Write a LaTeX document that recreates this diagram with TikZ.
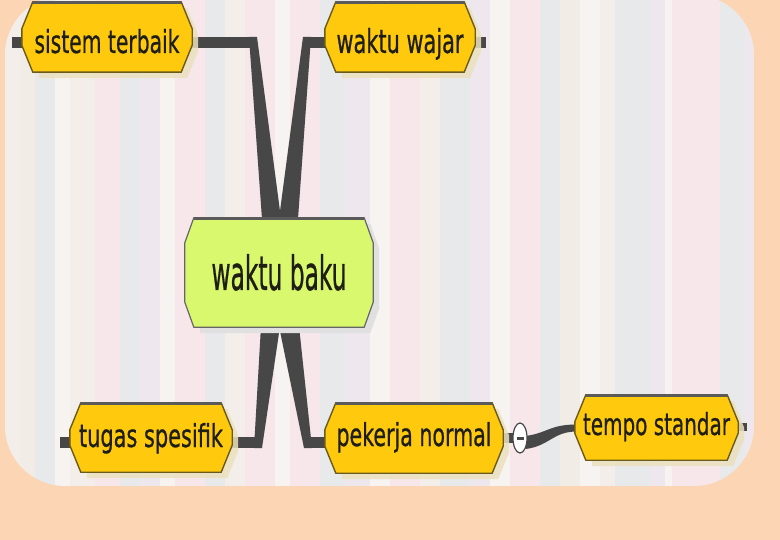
\documentclass[tikz,border=0pt]{standalone}
\usepackage{fontspec}
\setmainfont{DejaVu Sans}
\newfontfamily\lblfont[FakeBold=0.8]{DejaVu Sans}
\usepackage{graphicx}
\usetikzlibrary{calc,shapes.geometric,backgrounds}
\definecolor{peach}{HTML}{FCD6B4}
\definecolor{ca}{HTML}{F3EEEA}
\definecolor{cb}{HTML}{E8E9EA}
\definecolor{cc}{HTML}{F8E7EA}
\definecolor{cd}{HTML}{EEE8EE}
\definecolor{ce}{HTML}{F6F3F0}
\definecolor{cf}{HTML}{F1ECE6}
\definecolor{ylw}{HTML}{FFC90E}
\definecolor{ybord}{HTML}{6B5B1A}
\definecolor{topg}{HTML}{5A5A5A}
\definecolor{lime}{HTML}{D9F86E}
\definecolor{conn}{HTML}{474747}
\definecolor{txtc}{HTML}{1E1E14}
\definecolor{shad}{HTML}{EBE0BE}
\begin{document}
\begin{tikzpicture}[x=1pt,y=-1pt,
  lbl/.style={inner sep=0pt, anchor=base, text=txtc, font=\lblfont},
  connfill/.style={fill=conn},
  connshadow/.style={fill=black!14},
  boxshadow/.style={fill=shad, opacity=.85},
  minus/.style={ellipse, draw=conn, line width=1.2pt, fill=white, inner sep=0pt, minimum width=14pt, minimum height=30pt, text=conn}
]
\useasboundingbox (0,0) rectangle (780,540);

% labelled boxes
\node[lbl, minimum width=170pt, text height=51pt, text depth=19pt] (st) at (107,53) {\resizebox{145pt}{24pt}{sistem terbaik}};
\node[lbl, minimum width=150pt, text height=51pt, text depth=19pt] (ww) at (400,53) {\resizebox{127pt}{25pt}{waktu wajar}};
\node[lbl, minimum width=162pt, text height=44pt, text depth=25pt] (ts) at (151,447) {\resizebox{144pt}{24pt}{tugas spesifik}};
\node[lbl, minimum width=178pt, text height=43pt, text depth=27pt] (pn) at (414,446) {\resizebox{155pt}{24pt}{pekerja normal}};
\node[lbl, minimum width=163pt, text height=40pt, text depth=25pt] (tp) at (656.5,435) {\resizebox{147pt}{23pt}{tempo standar}};
\node[lbl, minimum width=188pt, text height=72pt, text depth=37pt] (wb) at (279,290) {\resizebox{135pt}{36pt}{waktu baku}};
\node[minus] (mn) at (520,438) {\rule[-1.5pt]{7pt}{3pt}};

\coordinate (jtl) at (253,42.5);
\coordinate (jtr) at (307,42.5);
\coordinate (jbl) at (258,442.5);
\coordinate (jbr) at (308,442.5);
\coordinate (stw) at (st.west |- jtl);
\coordinate (ste) at (st.east |- jtl);
\coordinate (wwe) at (ww.east |- jtr);
\coordinate (www) at (ww.west |- jtr);
\coordinate (tse) at (ts.east |- jbl);
\coordinate (tsw) at (ts.west |- jbl);
\coordinate (pnw) at (pn.west |- jbr);

\begin{pgfonlayer}{background}
  \fill[peach] (0,0) rectangle (780,540);
  \begin{scope}
    \clip[rounded corners=60pt] (5,-5) rectangle (754,486);
    \foreach \a/\b/\c in {5/20/ca,20/35/cf,35/55/cb,55/70/ce,70/95/ca,95/120/cc,120/140/cb,140/160/cd,160/175/ce,175/205/cc,205/225/cb,225/245/ca,245/275/cc,275/290/ce,290/320/cc,320/345/cb,345/370/cd,370/390/ce,390/420/cc,420/440/ca,440/470/cb,470/490/cd,490/510/ce,510/540/cc,540/560/cb,560/580/cf,580/600/ce,600/615/ca,615/650/cb,650/665/cd,665/672/ce,672/720/cc,720/745/cb,745/755/cd}
      \fill[\c] (\a,-5) rectangle (\b,486);
  \end{scope}

  % connectors (shadow first, then dark)
  \foreach \dx/\dy/\st in {4/6/connshadow,0/0/connfill}{
    \begin{scope}[shift={(\dx,\dy)}]
      % top left
      \fill[\st] ($(ste)+(-2,-5.5)$) rectangle ($(jtl)+(3,5.5)$);
      \fill[\st] ($(jtl)+(-4,-5.5)$) -- ($(jtl)+(4,-5.5)$) -- ($(wb.north)+(2,1)$) -- ($(wb.north)+(-17,1)$) -- cycle;
      \fill[\st] ($(stw)+(-10,-5.5)$) rectangle ($(stw)+(2,5.5)$);
      % top right
      \fill[\st] ($(jtr)+(-3,-5.5)$) rectangle ($(www)+(2,5.5)$);
      \fill[\st] ($(jtr)+(-4,-5.5)$) -- ($(jtr)+(4,-5.5)$) -- ($(wb.north)+(19,1)$) -- ($(wb.north)+(0,1)$) -- cycle;
      \fill[\st] ($(wwe)+(-2,-5.5)$) rectangle ($(wwe)+(11,5.5)$);
      % bottom left
      \fill[\st] ($(tse)+(-2,-5.5)$) rectangle ($(jbl)+(4,5.5)$);
      \fill[\st] ($(wb.south)+(-18,-1)$) -- ($(wb.south)+(1,-1)$) -- ($(jbl)+(4,5.5)$) -- ($(jbl)+(-4,5.5)$) -- cycle;
      \fill[\st] ($(tsw)+(-10,-5.5)$) rectangle ($(tsw)+(2,5.5)$);
      % bottom right
      \fill[\st] ($(jbr)+(-4,-5.5)$) rectangle ($(pnw)+(2,5.5)$);
      \fill[\st] ($(wb.south)+(0,-1)$) -- ($(wb.south)+(20,-1)$) -- ($(jbr)+(4,5.5)$) -- ($(jbr)+(-4,5.5)$) -- cycle;
      % pekerja normal -> minus -> tempo standar
      \fill[\st] ($(pn.east)+(-2,-5)$) rectangle ($(mn.center)+(0,5)$);
      \fill[\st] ($(mn.east)+(-2,-2)$) .. controls ($(mn.east)+(20,-5)$) and ($(tp.west)+(-25,-3)$) .. ($(tp.west)+(2,-3)$)
        -- ($(tp.west)+(2,4)$) .. controls ($(tp.west)+(-22,4)$) and ($(mn.east)+(22,8)$) .. ($(mn.east)+(-2,11)$) -- cycle;
      \fill[\st] ($(tp.east)+(-2,-4.5)$) rectangle ($(tp.east)+(9,3.5)$);
    \end{scope}
  }

  % yellow boxes
  \foreach \n in {st,ww,ts,pn,tp}{
    \fill[boxshadow] ($(\n.north west)+(17,6)$) -- ($(\n.north east)+(-5,6)$) -- ($(\n.north east)+(6,33)$) -- ($(\n.south east)+(6,-21)$) -- ($(\n.south east)+(-5,6)$) -- ($(\n.south west)+(17,6)$) -- cycle;
    \draw[fill=ylw, draw=ybord, line width=1.4pt, line join=miter]
      ($(\n.north west)+(11,0)$) -- ($(\n.north east)+(-11,0)$) -- ($(\n.north east)+(0,27)$) -- ($(\n.south east)+(0,-27)$) -- ($(\n.south east)+(-11,0)$) -- ($(\n.south west)+(11,0)$) -- ($(\n.south west)+(0,-27)$) -- ($(\n.north west)+(0,27)$) -- cycle;
    \draw[topg, line width=3pt] ($(\n.north west)+(11,0.8)$) -- ($(\n.north east)+(-11,0.8)$);
  }
  % central box
  \fill[black!12] ($(wb.north west)+(15,6)$) -- ($(wb.north east)+(-3,6)$) -- ($(wb.north east)+(6,31)$) -- ($(wb.south east)+(6,-19)$) -- ($(wb.south east)+(-3,6)$) -- ($(wb.south west)+(15,6)$) -- cycle;
  \draw[fill=lime, draw=black!60, line width=1.2pt, line join=miter]
    ($(wb.north west)+(9,0)$) -- ($(wb.north east)+(-9,0)$) -- ($(wb.north east)+(0,25)$) -- ($(wb.south east)+(0,-25)$) -- ($(wb.south east)+(-9,0)$) -- ($(wb.south west)+(9,0)$) -- ($(wb.south west)+(0,-25)$) -- ($(wb.north west)+(0,25)$) -- cycle;
  \draw[topg, line width=2.5pt] ($(wb.north west)+(9,0.8)$) -- ($(wb.north east)+(-9,0.8)$);
\end{pgfonlayer}
\end{tikzpicture}
\end{document}
